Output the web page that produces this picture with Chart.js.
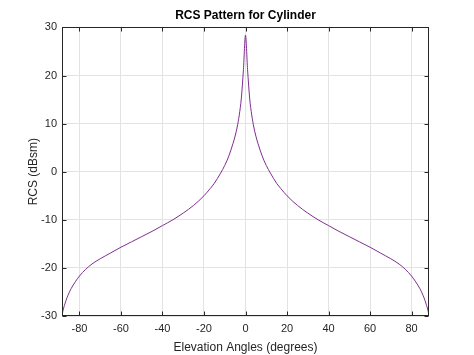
<!DOCTYPE html>
<html><head><meta charset="utf-8">
<script src="https://cdn.jsdelivr.net/npm/chart.js@4.4.1/dist/chart.umd.min.js"></script>
<style>html,body{margin:0;padding:0;background:#fff;} #c{display:block;}</style>
</head><body>
<canvas id="c" width="474" height="355"></canvas>
<script>
const elevationAngles = [-88.4,-88,-87,-86,-85,-84,-82,-80,-77,-74,-70,-65,-60,-55,-50,-45,-40,-35,-30,-25,-20,-17,-15,-12,-10,-8,-6,-5,-4,-3,-2,-1,0,
  1,2,3,4,5,6,8,10,12,15,17,20,25,30,35,40,45,50,55,60,65,70,74,77,80,82,84,85,86,87,88,88.4];
const rcsDbsm = [-30.0,-29.0,-27.5,-26.2,-25.2,-24.3,-22.9,-21.7,-20.3,-19.2,-18.1,-16.9,-15.7,-14.6,-13.5,-12.4,-11.2,-10.0,-8.6,-7.0,-5.0,-3.5,-2.4,-0.3,1.3,3.3,5.9,7.4,9.3,11.8,15.3,21.2,28.4,
  21.2,15.3,11.8,9.3,7.4,5.9,3.3,1.3,-0.3,-2.4,-3.5,-5.0,-7.0,-8.6,-10.0,-11.2,-12.4,-13.5,-14.6,-15.7,-16.9,-18.1,-19.2,-20.3,-21.7,-22.9,-24.3,-25.2,-26.2,-27.5,-29.0,-30.0];
const xTickValues = [-80,-60,-40,-20,0,20,40,60,80];
const yTickValues = [-30,-20,-10,0,10,20,30];
const chartTitle = 'RCS Pattern for Cylinder';
const xTitle = 'Elevation Angles (degrees)';
const yTitle = 'RCS (dBsm)';

const FONT = "'Liberation Sans', Arial, Helvetica, sans-serif";
const AX = '#262626';

const boxPlugin = {
  id: 'box',
  afterDraw(chart) {
    const {ctx, chartArea, scales} = chart;
    const L = Math.round(chartArea.left) + 0.5, R = Math.round(chartArea.right) - 0.5;
    const T = Math.round(chartArea.top) + 0.5, B = Math.round(chartArea.bottom) - 0.5;
    ctx.save();
    ctx.strokeStyle = AX; ctx.lineWidth = 1;
    ctx.strokeRect(L, T, R - L, B - T);
    ctx.beginPath();
    scales.x.ticks.forEach(t => {
      const px = Math.round(scales.x.getPixelForValue(t.value)) + 0.5;
      ctx.moveTo(px, B); ctx.lineTo(px, B - 4);
      ctx.moveTo(px, T); ctx.lineTo(px, T + 4);
    });
    scales.y.ticks.forEach(t => {
      const py = Math.round(scales.y.getPixelForValue(t.value)) + 0.5;
      ctx.moveTo(L, py); ctx.lineTo(L + 4, py);
      ctx.moveTo(R, py); ctx.lineTo(R - 4, py);
    });
    ctx.stroke();
    ctx.restore();
  }
};

new Chart(document.getElementById('c'), {
  type: 'scatter',
  data: {
    datasets: [{
      data: elevationAngles.map((a, i) => ({x: a, y: rcsDbsm[i]})),
      showLine: true,
      borderColor: '#7E2F8E',
      borderWidth: 1,
      pointRadius: 0,
      cubicInterpolationMode: 'monotone'
    }]
  },
  options: {
    responsive: false,
    animation: false,
    layout: {padding: {left: 0, right: 45, top: 0, bottom: 0}},
    plugins: {
      legend: {display: false},
      tooltip: {enabled: false},
      title: {
        display: true, text: chartTitle, fullSize: false, color: '#000',
        font: {family: FONT, size: 12, weight: 'bold'},
        padding: {top: 8, bottom: 5}
      }
    },
    scales: {
      x: {
        type: 'linear', min: -88.4, max: 88.4,
        afterBuildTicks: s => { s.ticks = xTickValues.map(v => ({value: v})); },
        afterFit: s => { s.height = 39; },
        grid: {color: '#e3e3e3', drawTicks: false},
        border: {display: false},
        ticks: {color: AX, font: {family: FONT, size: 11}, padding: 6, maxRotation: 0, includeBounds: false},
        title: {display: true, text: xTitle, color: AX, font: {family: FONT, size: 12}, padding: {top: 3, bottom: 0}}
      },
      y: {
        type: 'linear', min: -30, max: 30,
        afterBuildTicks: s => { s.ticks = yTickValues.map(v => ({value: v})); },
        afterFit: s => { s.width = 62; },
        grid: {color: '#e3e3e3', drawTicks: false},
        border: {display: false},
        ticks: {color: AX, font: {family: FONT, size: 11}, padding: 5, includeBounds: false},
        title: {display: true, text: yTitle, color: AX, font: {family: FONT, size: 12}, padding: {top: 26, bottom: 0}}
      }
    }
  },
  plugins: [boxPlugin]
});
</script>
</body></html>
